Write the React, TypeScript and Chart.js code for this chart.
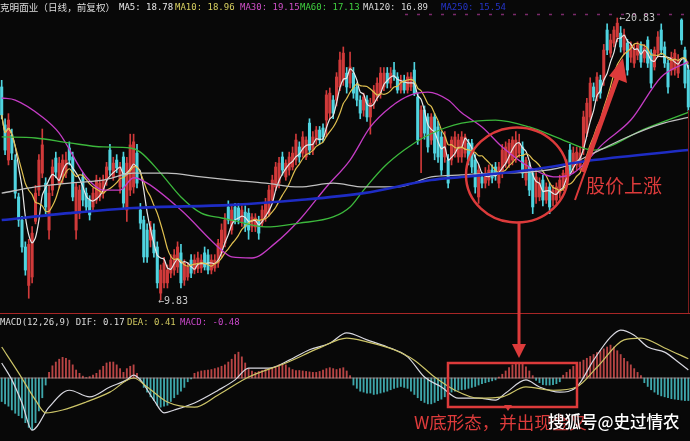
import React, { useEffect, useRef } from "react";
import { Chart, registerables } from "chart.js";
Chart.register(...registerables);

// ---------- price data (daily candles) ----------
const opens = [
  18.14,16.66,15.29,16.27,15.29,13.85,12.95,11.90,10.40,10.73,
  12.90,14.12,14.78,14.39,12.56,14.12,15.37,14.39,14.63,14.78,
  15.76,15.41,12.56,13.22,14.63,14.00,13.73,13.46,13.73,13.85,
  14.00,14.51,15.68,14.63,15.29,14.24,15.41,13.34,14.12,14.24,
  15.56,13.34,12.95,12.56,12.17,12.56,11.90,10.10,10.50,10.50,
  10.88,11.00,11.12,11.67,10.61,10.73,11.39,11.00,11.05,11.08,
  11.67,11.59,11.00,11.08,11.27,11.67,12.05,13.46,12.56,13.46,
  13.42,12.88,13.26,13.22,12.68,12.68,12.95,12.83,13.07,13.22,
  13.73,14.24,14.39,15.41,14.63,14.90,15.02,15.29,15.80,15.56,
  15.41,16.73,15.68,16.07,16.46,16.54,16.85,17.12,17.63,17.63,
  18.14,18.41,18.68,18.29,18.68,18.14,17.63,17.24,17.63,16.97,
  17.51,17.75,17.90,18.14,18.68,18.29,18.80,18.53,18.02,18.41,
  18.02,18.14,18.80,17.75,16.19,17.24,16.97,16.07,16.97,16.58,
  16.19,15.41,15.29,15.29,15.56,15.41,15.41,15.56,15.95,15.95,
  15.29,13.85,14.63,14.39,14.51,14.90,15.02,14.39,14.78,15.17,
  15.17,15.29,15.41,15.56,15.80,14.51,15.02,14.78,13.85,13.85,
  14.51,13.73,14.24,13.73,13.73,14.00,14.24,14.51,15.68,15.02,
  15.10,15.02,15.68,16.34,16.97,18.14,17.75,18.41,18.41,20.36,
  19.46,19.85,20.09,20.24,19.58,19.85,19.30,19.07,19.38,19.78,
  19.27,19.97,19.46,18.92,19.46,20.36,19.70,19.07,18.80,18.80,
  18.68,20.75,19.58,18.80,
];
const closes = [
  17.05,15.68,16.85,15.56,14.00,12.95,11.90,11.00,12.00,12.44,
  14.00,15.29,15.88,13.46,14.00,15.02,14.82,15.17,15.29,15.29,
  15.29,13.85,14.24,14.12,13.73,13.46,13.15,14.00,14.51,14.39,
  14.51,15.02,14.90,15.17,14.98,15.02,13.61,15.17,15.88,16.00,
  14.39,12.83,11.51,11.51,12.68,11.67,10.50,11.00,11.27,11.00,
  11.39,11.59,11.90,10.50,11.27,11.12,10.88,11.39,11.47,11.39,
  11.12,11.00,11.39,11.39,12.05,12.56,12.95,12.95,13.34,12.95,
  12.95,13.34,12.68,12.56,13.07,13.03,12.44,13.34,13.61,14.12,
  14.51,15.02,15.17,14.90,15.17,15.41,15.56,16.07,15.41,16.19,
  16.07,15.68,16.19,16.46,16.07,16.19,17.83,17.90,17.12,18.53,
  19.19,19.46,18.14,18.92,17.90,17.63,17.12,17.75,16.97,17.51,
  18.02,18.29,18.68,18.68,18.29,18.68,18.53,18.02,18.41,18.02,
  18.53,18.53,17.90,16.07,17.24,16.34,15.80,16.97,15.56,15.41,
  14.90,16.19,14.39,16.07,16.19,16.07,16.19,16.19,15.29,15.02,
  14.24,14.90,14.39,14.78,14.90,14.59,14.71,15.02,15.68,15.80,
  15.95,16.07,16.07,15.95,14.78,15.29,14.12,13.46,14.63,14.39,
  13.73,14.24,13.46,14.12,14.24,14.51,14.78,15.17,14.90,15.56,
  15.60,15.56,16.97,17.51,18.29,17.75,18.53,17.90,19.58,19.58,
  19.97,20.36,20.63,19.70,20.17,18.80,19.78,19.58,19.78,19.11,
  19.66,19.07,18.29,19.58,20.09,19.58,19.07,18.14,19.30,19.46,
  19.19,19.97,18.29,17.36,
];
const highs = [
  18.40,16.90,17.10,16.50,15.50,14.00,13.10,12.10,12.20,12.70,
  14.30,15.50,16.50,14.60,14.30,15.30,15.60,15.40,15.50,15.60,
  16.00,15.60,14.40,14.30,14.80,14.20,13.90,14.20,14.70,14.60,
  14.70,15.20,15.90,15.40,15.50,15.20,15.60,15.40,16.30,16.30,
  15.90,13.60,13.10,12.80,12.90,12.80,12.10,11.20,11.50,11.20,
  11.60,11.80,12.10,12.00,11.40,11.30,11.60,11.60,11.70,11.60,
  11.90,11.80,11.60,11.60,12.20,12.80,13.20,13.70,13.50,13.60,
  13.60,13.50,13.50,13.40,13.20,13.20,13.10,13.50,13.80,14.30,
  14.70,15.20,15.40,15.60,15.30,15.60,15.80,16.30,16.00,16.40,
  16.20,16.90,16.40,16.60,16.60,16.70,18.00,18.10,17.80,18.70,
  19.50,19.70,18.90,19.50,18.90,18.30,17.80,17.90,17.80,17.70,
  18.20,18.50,18.90,18.90,18.90,18.90,19.10,18.70,18.60,18.60,
  18.70,18.70,19.10,17.90,17.40,17.40,17.10,17.10,17.10,16.80,
  16.40,16.40,15.50,16.20,16.40,16.30,16.40,16.30,16.10,16.10,
  15.50,15.10,14.80,15.00,15.10,15.10,15.20,15.20,15.90,16.00,
  16.10,16.20,16.40,16.30,16.00,15.40,15.20,14.90,14.80,14.60,
  14.70,14.40,14.40,14.30,14.40,14.70,14.90,15.30,15.90,15.80,
  15.80,15.80,17.20,17.70,18.50,18.30,18.70,18.60,19.80,20.60,
  20.20,20.50,20.83,20.50,20.40,20.00,19.90,19.80,19.90,19.90,
  19.80,20.10,19.60,19.70,20.30,20.60,19.90,19.20,19.50,19.60,
  19.40,20.80,19.70,19.00,
];
const lows = [
  16.90,15.50,15.10,15.30,13.80,12.70,11.70,10.80,9.90,10.50,
  12.80,13.90,14.60,13.20,12.20,13.90,14.60,14.20,14.40,14.60,
  15.10,13.70,12.20,13.00,13.50,13.30,12.95,13.30,13.60,13.70,
  13.80,14.30,14.70,14.50,14.80,14.00,13.40,12.90,13.90,14.00,
  14.20,12.60,11.30,11.30,11.90,11.50,10.30,9.83,10.30,10.30,
  10.70,10.80,10.90,10.30,10.40,10.60,10.70,10.85,10.90,10.90,
  11.00,10.85,10.85,10.95,11.10,11.50,11.90,12.80,12.40,12.80,
  12.80,12.70,12.50,12.20,12.50,12.50,12.20,12.70,12.90,13.10,
  13.60,14.10,14.20,14.70,14.50,14.70,14.90,15.10,15.20,15.40,
  15.30,15.50,15.50,15.90,15.90,16.00,16.20,16.90,16.90,17.40,
  18.00,18.20,17.90,18.10,17.70,17.40,16.90,17.00,16.80,16.30,
  17.30,17.60,17.70,18.00,18.10,18.10,18.40,17.90,17.90,17.90,
  17.90,18.00,17.80,15.90,14.80,16.10,15.60,15.90,15.30,15.20,
  14.70,15.20,14.20,15.10,15.40,15.20,15.20,15.40,15.10,14.80,
  14.00,13.60,14.20,14.20,14.30,14.40,14.50,14.20,14.60,15.00,
  15.00,15.10,15.20,15.40,14.60,14.30,13.90,13.20,13.60,13.70,
  13.50,13.60,13.20,13.50,13.60,13.80,14.10,14.30,14.70,14.80,
  14.90,14.90,15.50,16.20,16.80,17.60,17.60,17.70,18.20,19.40,
  19.30,19.70,19.90,19.50,19.40,18.60,19.10,18.90,19.20,18.90,
  19.10,18.90,18.10,18.80,19.30,19.40,18.90,17.90,18.60,18.60,
  18.50,19.80,18.10,17.20,
];

// ---------- long moving averages (read at sample candles) ----------
const ma30Idx = [0,4,12,17,25,30,35,39,43,53,65,68,74,81,88,96,103,109,115,121,126,132,136,142,148,156,164,169,178,186,195,203];
const ma30 = [17.71,17.63,16.97,16.34,14.63,14.12,14.12,14.60,14.39,13.34,11.78,11.51,11.47,12.06,12.95,14.24,15.29,16.58,17.36,17.83,17.94,17.63,17.13,16.58,15.80,15.02,14.63,14.78,15.95,16.85,18.53,19.13];
const ma60Idx = [0,10,20,30,38,41,47,53,59,65,68,78,88,98,103,107,113,119,125,131,136,146,156,166,175,190,203];
const ma60 = [16.19,16.15,15.96,15.80,15.76,15.60,14.78,13.85,13.22,13.03,12.95,12.68,12.83,13.07,13.46,14.12,15.02,15.68,16.19,16.54,16.73,16.85,16.58,16.07,15.68,16.50,17.15];
const ma120Idx = [0,10,20,30,39,49,59,68,78,88,98,107,117,127,136,146,156,166,175,185,195,203];
const ma120 = [14.00,14.24,14.39,14.51,14.78,14.78,14.63,14.51,14.39,14.24,14.39,14.24,14.24,14.63,14.71,14.78,14.82,15.02,15.56,16.19,16.70,16.95];
const ma250Idx = [0,20,39,68,88,107,127,136,156,175,203];
const ma250 = [12.95,13.22,13.42,13.54,13.73,14.00,14.51,14.63,14.90,15.29,15.68];

// ---------- MACD ----------
const macdHist = [
  -0.50,-0.55,-0.60,-0.68,-0.75,-0.80,-0.85,-0.95,-1.05,-1.10,
  -0.95,-0.70,-0.42,-0.15,0.12,0.26,0.34,0.40,0.44,0.42,
  0.38,0.28,0.17,0.10,0.04,0.01,0.03,0.06,0.10,0.17,
  0.25,0.32,0.34,0.34,0.28,0.20,0.12,0.20,0.25,0.28,
  0.10,-0.05,-0.20,-0.30,-0.40,-0.48,-0.58,-0.62,-0.60,-0.58,
  -0.50,-0.42,-0.35,-0.28,-0.20,-0.08,-0.02,0.10,0.13,0.15,
  0.16,0.17,0.18,0.20,0.22,0.25,0.28,0.34,0.40,0.50,
  0.55,0.45,0.32,0.20,0.15,0.12,0.14,0.16,0.18,0.20,
  0.22,0.25,0.28,0.30,0.28,0.22,0.18,0.16,0.16,0.15,
  0.14,0.13,0.12,0.12,0.14,0.17,0.20,0.22,0.20,0.18,
  0.20,0.22,0.15,0.05,-0.15,-0.22,-0.28,-0.30,-0.32,-0.32,
  -0.35,-0.34,-0.32,-0.30,-0.28,-0.25,-0.22,-0.20,-0.18,-0.20,
  -0.22,-0.28,-0.35,-0.42,-0.48,-0.52,-0.55,-0.55,-0.52,-0.48,
  -0.45,-0.40,-0.35,-0.30,-0.28,-0.26,-0.25,-0.24,-0.22,-0.20,
  -0.18,-0.15,-0.12,-0.10,-0.08,-0.06,-0.04,0.02,0.08,0.15,
  0.22,0.28,0.32,0.33,0.30,0.24,0.15,0.05,-0.05,-0.10,
  -0.14,-0.15,-0.15,-0.14,-0.12,-0.08,0.06,0.12,0.18,0.25,
  0.30,0.34,0.38,0.42,0.46,0.50,0.54,0.58,0.62,0.66,
  0.70,0.66,0.58,0.50,0.42,0.35,0.28,0.20,0.12,0.05,
  -0.10,-0.18,-0.25,-0.30,-0.35,-0.38,-0.40,-0.42,-0.44,-0.45,
  -0.46,-0.47,-0.48,-0.48,
];
const difIdx = [0,3,6,9,14,20,26,32,37,39,41,45,48,51,57,64,69,73,79,85,91,97,102,108,114,120,125,130,135,141,146,149,155,159,165,170,175,180,183,187,191,196,200,203];
const dif = [0.32,-0.04,-0.53,-1.11,-0.62,-0.26,-0.40,-0.19,-0.04,0.06,-0.04,-0.47,-0.74,-0.68,-0.53,-0.26,-0.04,0.21,0.21,0.38,0.60,0.74,0.96,0.81,0.66,0.45,0.02,-0.19,-0.43,-0.43,-0.47,-0.32,-0.04,-0.19,-0.30,-0.19,0.38,0.87,1.02,0.91,0.66,0.55,0.34,0.17];
const deaIdx = [0,5,10,13,18,25,32,39,43,49,57,64,73,84,94,102,108,116,122,128,134,141,148,155,163,170,176,184,189,196,203];
const dea = [0.66,0.11,-0.47,-0.74,-0.68,-0.51,-0.30,0.00,-0.19,-0.51,-0.62,-0.36,0.02,0.32,0.64,0.85,0.77,0.60,0.38,0.02,-0.26,-0.43,-0.40,-0.19,-0.26,-0.19,0.23,0.81,0.85,0.64,0.41];

// ---------- texts ----------
const titleName = "克明面业（日线，前复权）";
const maLabels = ["MA5: 18.78", "MA10: 18.96", "MA30: 19.15", "MA60: 17.13", "MA120: 16.89", "MA250: 15.54"];
const macdLabels = ["MACD(12,26,9) DIF: 0.17", "DEA: 0.41", "MACD: -0.48"];
const lowLabel = "←9.83";
const highLabel = "←20.83";
const noteRise = "股价上涨";
const noteW = "W底形态，并出现金叉";
const watermark = "搜狐号@史过情农";

// ---------- styles ----------
const BG = "#080808";
const UP = "#d03a3a";
const DOWN = "#50d4e0";
const C_MA5 = "#e8e8e8";
const C_MA10 = "#e0c050";
const C_MA30 = "#c43cc4";
const C_MA60 = "#3cb83c";
const C_MA120 = "#c0c0c0";
const C_MA250 = "#1e2cc4";
const ANNO = "#dd3b3b";
const N = closes.length;

function movingAverage(src: number[], n: number) {
  return src.map((_, i) => {
    const s = src.slice(Math.max(0, i - n + 1), i + 1);
    return s.reduce((a, b) => a + b, 0) / s.length;
  });
}
const pts = (idx: number[], vals: number[]) => idx.map((x, i) => ({ x, y: vals[i] }));

function lineDs(data: any[], color: string, width = 1.2, smooth = true) {
  return {
    type: "line" as const,
    data,
    borderColor: color,
    borderWidth: width,
    pointRadius: 0,
    fill: false,
    tension: smooth ? 0.4 : 0.25,
    cubicInterpolationMode: smooth ? ("monotone" as const) : ("default" as const),
    order: 1,
  };
}

const xScale = { type: "linear", min: -0.5, max: N - 0.5, display: false, offset: false, grid: { offset: false } };

export default function App() {
  const mainRef = useRef<HTMLCanvasElement>(null);
  const macdRef = useRef<HTMLCanvasElement>(null);

  useEffect(() => {
    document.body.style.margin = "0";
    document.body.style.background = BG;
    const candleColors = closes.map((c, i) => (c >= opens[i] ? UP : DOWN));
    const ma5 = movingAverage(closes, 5).map((y, x) => ({ x, y }));
    const ma10 = movingAverage(closes, 10).map((y, x) => ({ x, y }));

    const main = new Chart(mainRef.current!, {
      type: "bar",
      data: {
        datasets: [
          lineDs(pts(ma250Idx, ma250), C_MA250, 2.6),
          lineDs(pts(ma120Idx, ma120), C_MA120, 1.3),
          lineDs(pts(ma60Idx, ma60), C_MA60, 1.3),
          lineDs(pts(ma30Idx, ma30), C_MA30, 1.3),
          lineDs(ma10, C_MA10, 1.2, false),
          lineDs(ma5, C_MA5, 1.2, false),
          {
            type: "bar",
            data: lows.map((l, i) => ({ x: i, y: [l, highs[i]] })),
            backgroundColor: candleColors,
            barThickness: 1,
            grouped: false,
            borderWidth: 0,
            order: 10,
          } as any,
          {
            type: "bar",
            data: opens.map((o, i) => ({ x: i, y: [o, closes[i]] })),
            backgroundColor: candleColors,
            barThickness: 2.4,
            grouped: false,
            borderWidth: 0,
            minBarLength: 1,
            order: 9,
          } as any,
        ],
      },
      options: {
        animation: false,
        responsive: false,
        events: [],
        layout: { padding: 0 },
        plugins: { legend: { display: false }, tooltip: { enabled: false } },
        scales: {
          x: xScale,
          y: { min: 9.325, max: 21.532, display: false },
        },
      },
    } as any);

    const histColors = macdHist.map((v) => (v >= 0 ? "#b84444" : "#3ea6aa"));
    const macd = new Chart(macdRef.current!, {
      type: "bar",
      data: {
        datasets: [
          {
            type: "line",
            data: [{ x: -0.5, y: 0 }, { x: N - 0.5, y: 0 }],
            borderColor: "rgba(190,150,150,0.75)",
            borderWidth: 1,
            pointRadius: 0,
            order: 5,
          } as any,
          lineDs(pts(deaIdx, dea), "#ccc468", 1.2),
          lineDs(pts(difIdx, dif), "#d8d8e0", 1.2),
          {
            type: "bar",
            data: macdHist.map((v, i) => ({ x: i, y: v })),
            backgroundColor: histColors,
            barThickness: 1.2,
            grouped: false,
            borderWidth: 0,
            order: 10,
          } as any,
        ],
      },
      options: {
        animation: false,
        responsive: false,
        events: [],
        layout: { padding: 0 },
        plugins: { legend: { display: false }, tooltip: { enabled: false } },
        scales: {
          x: xScale,
          y: { min: -1.34, max: 1.383, display: false },
        },
      },
    } as any);

    return () => {
      main.destroy();
      macd.destroy();
    };
  }, []);

  const mono: React.CSSProperties = {
    position: "absolute",
    fontFamily: "'DejaVu Sans Mono', monospace",
    fontSize: 9,
    lineHeight: "10px",
    whiteSpace: "nowrap",
  };
  const maColors = [C_MA5, "#d8d060", "#d050c8", "#40d040", "#d8d8d8", "#2434c8"];
  const maLefts = [119, 175, 240, 300, 363, 441];
  const macdColors = ["#dcdcdc", "#d0c860", "#c848c8"];
  const macdLefts = [0, 127, 180];

  return (
    <div style={{ position: "fixed", left: 0, top: 0, width: 690, height: 441, background: BG, overflow: "hidden" }}>
      <canvas ref={mainRef} width={690} height={313} style={{ position: "absolute", left: 0, top: 0 }} />
      <canvas ref={macdRef} width={690} height={128} style={{ position: "absolute", left: 0, top: 313 }} />

      <svg width={690} height={441} style={{ position: "absolute", left: 0, top: 0 }}>
        <line x1={0} y1={313.5} x2={690} y2={313.5} stroke="#a82626" strokeWidth={1} />
        <line x1={405} y1={14.5} x2={690} y2={14.5} stroke="#7a2a6a" strokeWidth={1.5} strokeDasharray="3 9" />
        <line x1={688.5} y1={110} x2={688.5} y2={313} stroke="#7a1c1c" strokeWidth={1} />
        <ellipse cx={517} cy={175} rx={51} ry={47.5} stroke={ANNO} strokeWidth={2.5} fill="none" />
        <line x1={519} y1={223} x2={519} y2={346} stroke={ANNO} strokeWidth={3} />
        <polygon points="512,344 526,344 519,358" fill={ANNO} />
        <rect x={448} y={363} width={129} height={44} stroke={ANNO} strokeWidth={2.5} fill="none" />
        <polygon points="504,405 512,405 508,411" fill={ANNO} />
        <line x1={575} y1={200} x2={592} y2={152} stroke={ANNO} strokeWidth={2} />
        <line x1={583} y1={172} x2={617} y2={78} stroke={ANNO} strokeWidth={5} />
        <polygon points="623,58 627,83 609,76" fill={ANNO} />
      </svg>

      <div style={{ position: "absolute", left: 0, top: 1, fontFamily: "'Noto Sans CJK SC', sans-serif", fontSize: 9.6, lineHeight: "12px", color: "#dcdcdc", whiteSpace: "nowrap" }}>
        {titleName}
      </div>
      {maLabels.map((t, i) => (
        <div key={t} style={{ ...mono, left: maLefts[i], top: 2, color: maColors[i] }}>{t}</div>
      ))}
      {macdLabels.map((t, i) => (
        <div key={t} style={{ ...mono, left: macdLefts[i], top: 317, color: macdColors[i] }}>{t}</div>
      ))}
      <div style={{ ...mono, fontSize: 10, left: 158, top: 296, color: "#c8c8c8" }}>{lowLabel}</div>
      <div style={{ ...mono, fontSize: 10, left: 619, top: 13, color: "#c8c8c8" }}>{highLabel}</div>

      <div style={{ position: "absolute", left: 586, top: 174, fontFamily: "'Noto Sans CJK SC', sans-serif", fontSize: 19, lineHeight: "22px", color: ANNO, whiteSpace: "nowrap" }}>
        {noteRise}
      </div>
      <div style={{ position: "absolute", left: 414, top: 411, fontFamily: "'Noto Sans CJK SC', sans-serif", fontSize: 17.5, lineHeight: "22px", color: ANNO, whiteSpace: "nowrap" }}>
        {noteW}
      </div>
      <div style={{ position: "absolute", left: 548, top: 410, fontFamily: "'Noto Sans CJK SC', sans-serif", fontSize: 16.5, fontWeight: 500, lineHeight: "22px", color: "#ffffff", whiteSpace: "nowrap", textShadow: "0 0 2px #000" }}>
        {watermark}
      </div>
    </div>
  );
}
